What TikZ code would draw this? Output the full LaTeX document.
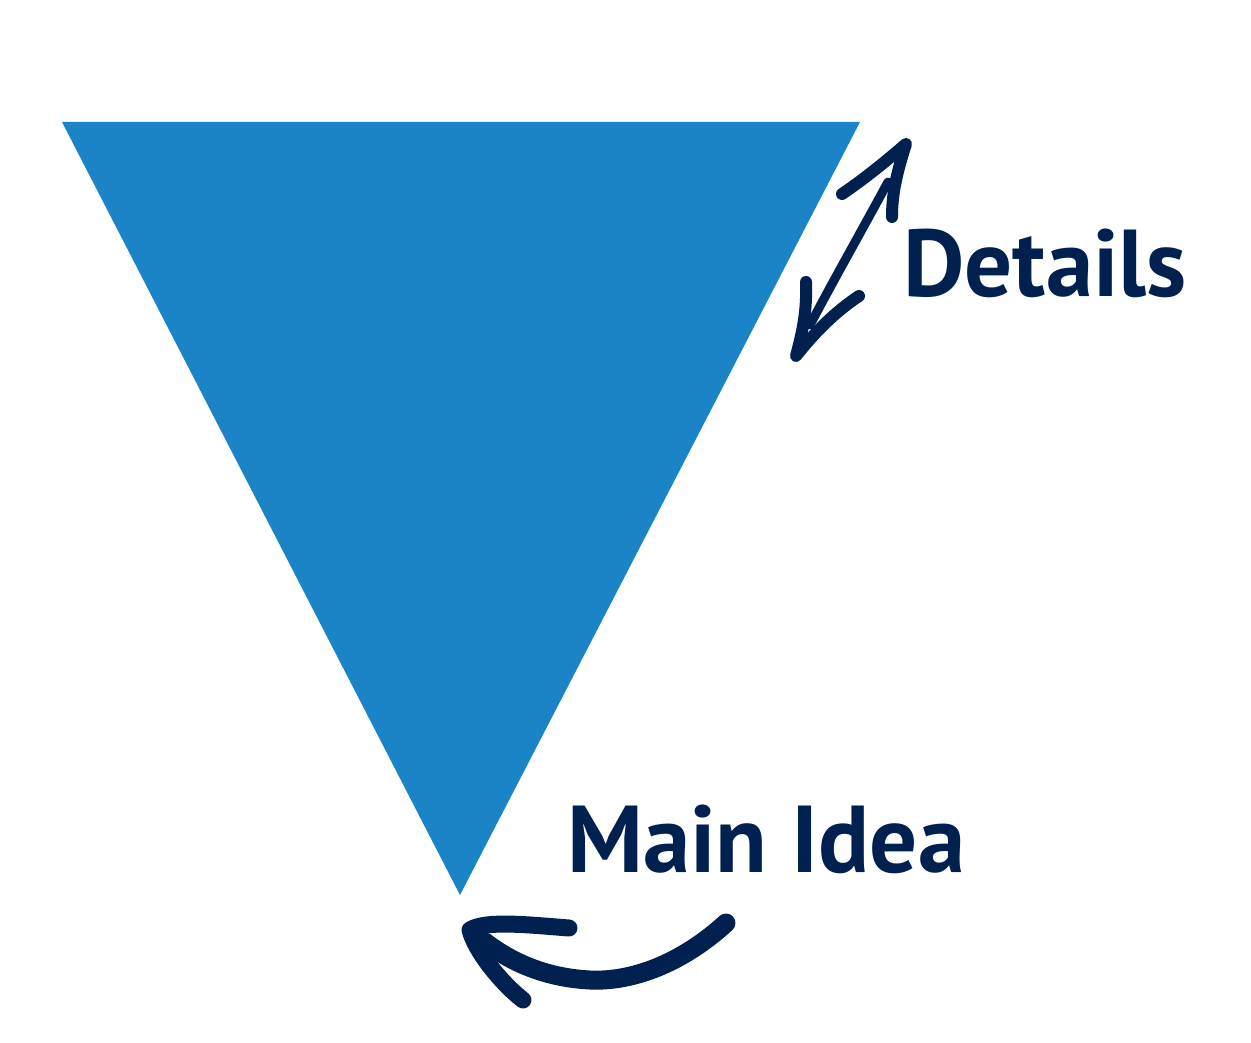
\documentclass[tikz,border=0pt]{standalone}
\usepackage{fontspec}
\setmainfont{PT Sans}
\definecolor{triblue}{RGB}{27,132,198}
\definecolor{navy}{RGB}{0,33,80}
\begin{document}
\begin{tikzpicture}[x=1pt,y=-1pt,
  lbl/.style={text=navy,font=\bfseries\fontsize{95}{95}\selectfont,inner sep=0pt,anchor=base west},
  arm/.style={draw=navy,line width=12pt,line cap=round,line join=round},
  shaft/.style={draw=navy,line width=9pt,line cap=round},
  bigarm/.style={draw=navy,line width=17pt,line cap=round,line join=round},
  bigshaft/.style={draw=navy,line width=19pt,line cap=round}]
\useasboundingbox (0,0) rectangle (1251,1043);
% triangle
\coordinate (tl) at (62,122);
\coordinate (tr) at (860,122);
\coordinate (bt) at (460,895);
\fill[triblue] (tl) -- (tr) -- (bt) -- cycle;
% labels
\node[lbl] (details) at (903,297) {Details};
\node[lbl] (mainidea) at (567,872) {Main Idea};
% double arrow near Details
\coordinate (uptip) at (906,144);
\coordinate (uparmL) at (842,194);
\coordinate (uparmR) at (892,217);
\coordinate (lotip) at (796,356);
\coordinate (loarmU) at (806,282);
\coordinate (loarmR) at (859,296);
\coordinate (shA) at (810,325);
\coordinate (shB) at (888,182);
\draw[shaft] (shA) .. controls (832,283) and (862,230) .. (shB);
\draw[arm] (uparmL) .. controls (870,175) and (893,155) .. (uptip) .. controls (896,175) and (892,195) .. (uparmR);
\draw[arm] (loarmU) .. controls (807,310) and (803,330) .. (lotip) .. controls (815,332) and (835,312) .. (loarmR);
% curved arrow to the apex
\coordinate (bstart) at (726,923);
\coordinate (bend) at (485,942);
\coordinate (btip) at (470,930);
\coordinate (barmU) at (569,928);
\coordinate (barmL) at (523,1000);
\draw[bigshaft] (bstart) .. controls (680,965) and (630,982) .. (590,980) .. controls (550,978) and (515,965) .. (bend);
\draw[bigarm] (barmU) .. controls (530,925) and (485,920) .. (btip) .. controls (475,950) and (500,982) .. (barmL);
\end{tikzpicture}
\end{document}
